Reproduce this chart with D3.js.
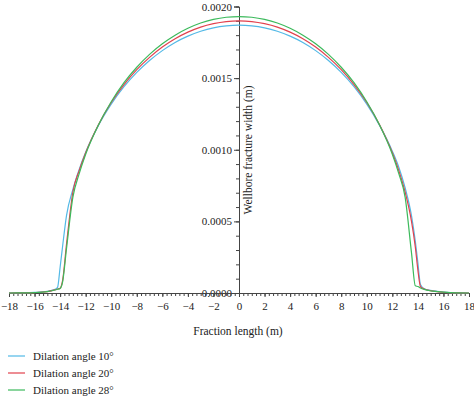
<!DOCTYPE html>
<html>
<head>
<meta charset="utf-8">
<script src="https://cdn.jsdelivr.net/npm/d3@7"></script>
<style>
    body { margin: 0; background: #fff; }
    text { font-family: "Liberation Serif", "DejaVu Serif", serif; fill: #222; }
</style>
</head>
<body>
<svg id="chart" width="474" height="398"></svg>
<script>
// fraction length (m)
const xs = [-18, -17, -16, -15, -14.5, -14.2, -14, -13.8, -13.5, -13, -12.5, -12, -11, -10, -9, -8, -7, -6, -5, -4, -3, -2, -1, 0,
    1, 2, 3, 4, 5, 6, 7, 8, 9, 10, 11, 12, 12.5, 13, 13.5, 13.8, 14, 14.2, 14.5, 15, 16, 17, 18];

// wellbore fracture width (m)
const angle10 = [0, 0.000001, 0.000004, 0.000012, 0.000022, 0.00004, 0.00018, 0.00033, 0.00054, 0.000724, 0.000865, 0.000982,
    0.00117, 0.001318, 0.00144, 0.00154, 0.001623, 0.001692, 0.001749, 0.001793, 0.001827, 0.001851, 0.001865, 0.00187,
    0.001865, 0.001851, 0.001827, 0.001793, 0.001749, 0.001692, 0.001623, 0.00154, 0.00144, 0.001318, 0.00117, 0.00099,
    0.00088, 0.000735, 0.00054, 0.00036, 0.00021, 0.00006, 0.00003, 0.000018, 0.000006, 0.000001, 0];
const angle20 = [0, 0.000001, 0.000003, 0.00001, 0.00002, 0.000028, 0.000034, 0.00009, 0.00034, 0.000705, 0.000856, 0.000979,
    0.001175, 0.00133, 0.001455, 0.001559, 0.001645, 0.001717, 0.001775, 0.001821, 0.001856, 0.00188, 0.001895, 0.0019,
    0.001895, 0.00188, 0.001856, 0.001821, 0.001775, 0.001717, 0.001645, 0.001559, 0.001455, 0.00133, 0.001175, 0.000979,
    0.000856, 0.000705, 0.0005, 0.00032, 0.00016, 0.000045, 0.000028, 0.000016, 0.000005, 0.000001, 0];
const angle28 = [0, 0.000001, 0.000003, 0.00001, 0.000019, 0.000026, 0.000032, 0.00008, 0.00031, 0.000669, 0.000835, 0.000969,
    0.001173, 0.001335, 0.001468, 0.001576, 0.001666, 0.00174, 0.0018, 0.001848, 0.001885, 0.00191, 0.001925, 0.00193,
    0.001925, 0.00191, 0.001885, 0.001848, 0.0018, 0.00174, 0.001666, 0.001576, 0.001468, 0.001335, 0.001173, 0.000969,
    0.000835, 0.000669, 0.00028, 0.00005, 0.000045, 0.000035, 0.000025, 0.000015, 0.000006, 0.000001, 0];

const seriesNames = ["Dilation angle 10°", "Dilation angle 20°", "Dilation angle 28°"];
const seriesColors = ["#53b9e6", "#e2414e", "#3cba5c"];
const xTicks = d3.range(-18, 19, 2);
const yTicks = [0, 0.0005, 0.001, 0.0015, 0.002];

const svg = d3.select("#chart");

const x = d3.scaleLinear().domain([-18, 18]).range([9, 469]);
const y = d3.scaleLinear().domain([0, 0.002]).range([293, 6.5]);

// y axis sits on x = 0
const yAxisG = svg.append("g")
    .attr("transform", `translate(${x(0)},0)`)
    .call(d3.axisLeft(y).tickValues(d3.range(0, 0.00201, 0.0001)).tickSize(3).tickFormat(""));
yAxisG.call(g => g.select(".domain").remove());
svg.append("g")
    .attr("transform", `translate(${x(0)},0)`)
    .call(d3.axisLeft(y).tickValues(yTicks).tickSize(5).tickPadding(2).tickFormat(d3.format(".4f")));

svg.selectAll("g.tick text").style("font-size", "11px").style("font-family", "'Liberation Serif', serif");

// x axis with minor ticks
svg.append("g")
    .attr("transform", `translate(0,${y(0)})`)
    .call(d3.axisBottom(x).tickValues(d3.range(-18, 18.01, 1 / 3)).tickSize(3).tickFormat(""));
const xAxisG = svg.append("g")
    .attr("transform", `translate(0,${y(0)})`)
    .call(d3.axisBottom(x).tickValues(xTicks).tickSize(4).tickPadding(5).tickSizeOuter(0));
xAxisG.selectAll("text").style("font-size", "11px").style("font-family", "'Liberation Serif', serif");

svg.selectAll(".domain, .tick line").attr("stroke", "#444");

// curves
const line = d3.line()
    .x((d, i) => x(xs[i]))
    .y(d => y(d))
    .curve(d3.curveMonotoneX);

[angle10, angle20, angle28].forEach((vals, k) => {
    svg.append("path")
        .datum(vals)
        .attr("fill", "none")
        .attr("stroke", seriesColors[k])
        .attr("stroke-width", 1.2)
        .attr("d", line);
});

// axis titles
svg.append("text")
    .attr("x", 238)
    .attr("y", 335)
    .attr("text-anchor", "middle")
    .style("font-size", "11.5px")
    .text("Fraction length (m)");

svg.append("text")
    .attr("transform", `translate(252,150) rotate(-90)`)
    .attr("text-anchor", "middle")
    .style("font-size", "11.5px")
    .text("Wellbore fracture width (m)");

// legend
const legend = svg.append("g").attr("transform", "translate(8,356)");
seriesNames.forEach((name, k) => {
    const row = legend.append("g").attr("transform", `translate(0,${k * 17})`);
    row.append("line")
        .attr("x1", 0).attr("x2", 17)
        .attr("stroke", seriesColors[k])
        .attr("stroke-width", 1.2);
    row.append("text")
        .attr("x", 25)
        .attr("dy", "0.35em")
        .style("font-size", "11px")
        .text(name);
});
</script>
</body>
</html>
